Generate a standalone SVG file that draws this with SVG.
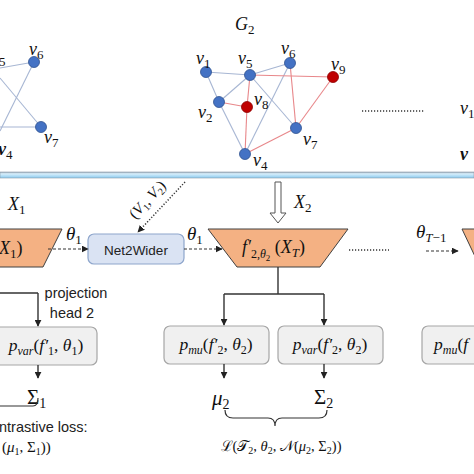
<svg xmlns="http://www.w3.org/2000/svg" width="474" height="474" viewBox="0 0 474 474">
<defs>
<style>
.m{font-family:"Liberation Serif","DejaVu Serif",serif;font-style:italic;fill:#111}
.s{font-family:"Liberation Sans",Arial,sans-serif;fill:#222}
.eb{stroke:#a7b6d3;stroke-width:1.1;fill:none}
.er{stroke:#e8878a;stroke-width:1.1;fill:none}
.nb{fill:#4472c4;stroke:#2f528f;stroke-width:0.8}
.nr{fill:#c00000;stroke:#8b0000;stroke-width:0.8}
.trap{fill:#f4b183;stroke:#404040;stroke-width:1}
.box{fill:#f0f0f0;stroke:#a6a6a6;stroke-width:1.2}
.ln{stroke:#333;stroke-width:1.4;fill:none}
.dash{stroke:#333;stroke-width:1.2;fill:none;stroke-dasharray:3 2}
.dot{stroke:#333;stroke-width:1.5;fill:none;stroke-dasharray:1.2 1.8}
.up{font-style:normal}
</style>
<marker id="ah" viewBox="0 0 10 10" refX="9" refY="5" markerWidth="7" markerHeight="7" markerUnits="userSpaceOnUse" orient="auto"><path d="M0,0 L10,5 L0,10 z" fill="#222"/></marker>
<linearGradient id="band" x1="0" y1="0" x2="0" y2="1"><stop offset="0" stop-color="#9aaab8"/><stop offset="0.3" stop-color="#d7eefb"/><stop offset="1" stop-color="#8ccbef"/></linearGradient>
</defs>
<rect width="474" height="474" fill="#fff"/>

<rect x="0" y="172" width="474" height="6" fill="url(#band)" stroke="#8a9aa8" stroke-width="0.6"/>

<g id="graph1">
<line class="eb" x1="0" y1="68" x2="34" y2="62"/>
<line class="eb" x1="0" y1="78" x2="41" y2="127"/>
<line class="eb" x1="0" y1="131" x2="34" y2="62"/>
<line class="eb" x1="0" y1="127" x2="41" y2="127"/>
<circle class="nb" cx="34" cy="62" r="5.5"/>
<circle class="nb" cx="41" cy="127" r="5.5"/>
<text class="m" x="29" y="55" font-size="18">v<tspan dy="4" font-size="13" class="up">6</tspan></text>
<text class="m" x="44" y="143" font-size="18">v<tspan dy="4" font-size="13" class="up">7</tspan></text>
<text class="m" x="-2" y="155" font-size="18" font-weight="bold">v<tspan dy="4" font-size="13" font-weight="normal" class="up">4</tspan></text>
<text class="m" x="-9" y="62" font-size="18">v<tspan dy="4" font-size="13" class="up">5</tspan></text>
</g>

<g id="graph2">
<text class="m" x="235" y="30" font-size="18">G<tspan dy="4" font-size="13" class="up">2</tspan></text>
<line class="eb" x1="206" y1="72" x2="250" y2="75"/>
<line class="eb" x1="250" y1="75" x2="290" y2="63"/>
<line class="eb" x1="206" y1="72" x2="219" y2="102"/>
<line class="eb" x1="219" y1="102" x2="250" y2="75"/>
<line class="eb" x1="219" y1="102" x2="245" y2="154"/>
<line class="eb" x1="250" y1="75" x2="296" y2="128"/>
<line class="eb" x1="290" y1="63" x2="245" y2="154"/>
<line class="er" x1="250" y1="75" x2="333" y2="77"/>
<line class="er" x1="250" y1="75" x2="247" y2="107"/>
<line class="er" x1="219" y1="102" x2="247" y2="107"/>
<line class="er" x1="247" y1="107" x2="245" y2="154"/>
<line class="er" x1="245" y1="154" x2="296" y2="128"/>
<line class="er" x1="296" y1="128" x2="333" y2="77"/>
<line class="er" x1="290" y1="63" x2="296" y2="128"/>
<circle class="nb" cx="206" cy="72" r="5.5"/>
<circle class="nb" cx="250" cy="75" r="5.5"/>
<circle class="nb" cx="290" cy="63" r="5.5"/>
<circle class="nr" cx="333" cy="77" r="5.5"/>
<circle class="nb" cx="219" cy="102" r="5.5"/>
<circle class="nr" cx="247" cy="107" r="5.5"/>
<circle class="nb" cx="296" cy="128" r="5.5"/>
<circle class="nb" cx="245" cy="154" r="5.5"/>
<text class="m" x="196" y="64" font-size="18">v<tspan dy="4" font-size="13" class="up">1</tspan></text>
<text class="m" x="238" y="64" font-size="18">v<tspan dy="4" font-size="13" class="up">5</tspan></text>
<text class="m" x="281" y="54" font-size="18">v<tspan dy="4" font-size="13" class="up">6</tspan></text>
<text class="m" x="331" y="70" font-size="18">v<tspan dy="4" font-size="13" class="up">9</tspan></text>
<text class="m" x="198" y="118" font-size="18">v<tspan dy="4" font-size="13" class="up">2</tspan></text>
<text class="m" x="254" y="105" font-size="18">v<tspan dy="4" font-size="13" class="up">8</tspan></text>
<text class="m" x="303" y="145" font-size="18">v<tspan dy="4" font-size="13" class="up">7</tspan></text>
<text class="m" x="253" y="166" font-size="18">v<tspan dy="4" font-size="13" class="up">4</tspan></text>
</g>

<g id="graph3">
<line class="dot" x1="362" y1="111" x2="425" y2="111"/>
<text class="m" x="460" y="114" font-size="18">v<tspan dy="4" font-size="13" class="up">1</tspan></text>
<text class="m" x="460" y="160" font-size="18" font-weight="bold">v</text>
</g>

<g id="enc1">
<polygon class="trap" points="-40,229 62,229 43,267 -30,267"/>
<text class="m" x="-1" y="254" font-size="18">X<tspan dy="4" font-size="13" class="up">1</tspan><tspan dy="-4" class="up">)</tspan></text>
<text class="m" x="8" y="210" font-size="18">X<tspan dy="4" font-size="13" class="up">1</tspan></text>
</g>

<g id="net2wider">
<rect x="88" y="234" width="96" height="30" rx="6" fill="#dae3f3" stroke="#8ea6cc" stroke-width="1.2"/>
<text class="s" x="136" y="254.5" font-size="13.5" text-anchor="middle">Net2Wider</text>
</g>

<g id="enc2">
<polygon class="trap" points="208,229 348,229 320,267 237,267"/>
<text class="m" x="242" y="253" font-size="18">f′<tspan dy="5" font-size="12" class="up">2,</tspan><tspan font-size="12">θ</tspan><tspan dy="3" font-size="9" class="up">2</tspan><tspan dy="-8" font-size="18" class="up"> (</tspan><tspan font-size="18">X</tspan><tspan dy="4" font-size="13">T</tspan><tspan dy="-4" font-size="18" class="up">)</tspan></text>
<text class="m" x="294" y="208" font-size="18">X<tspan dy="4" font-size="13" class="up">2</tspan></text>
</g>

<g id="enc3">
<polygon class="trap" points="462,229 500,229 490,267 480,267"/>
</g>

<g id="head1">
<rect x="-20" y="327" width="117" height="38" rx="6" class="box"/>
<text class="m" x="46" y="351" font-size="17.5" text-anchor="middle">p<tspan dy="4" font-size="12">var</tspan><tspan dy="-4" class="up">(</tspan><tspan>f′</tspan><tspan dy="4" font-size="12" class="up">1</tspan><tspan dy="-4" class="up">,</tspan><tspan> θ</tspan><tspan dy="4" font-size="12" class="up">1</tspan><tspan dy="-4" class="up">)</tspan></text>
</g>
<g id="head2mu">
<rect x="164" y="326" width="105" height="38" rx="6" class="box"/>
<text class="m" x="216" y="350" font-size="17.5" text-anchor="middle">p<tspan dy="4" font-size="12">mu</tspan><tspan dy="-4" class="up">(</tspan><tspan>f′</tspan><tspan dy="4" font-size="12" class="up">2</tspan><tspan dy="-4" class="up">,</tspan><tspan> θ</tspan><tspan dy="4" font-size="12" class="up">2</tspan><tspan dy="-4" class="up">)</tspan></text>
</g>
<g id="head2var">
<rect x="278" y="326" width="105" height="38" rx="6" class="box"/>
<text class="m" x="330" y="350" font-size="17.5" text-anchor="middle">p<tspan dy="4" font-size="12">var</tspan><tspan dy="-4" class="up">(</tspan><tspan>f′</tspan><tspan dy="4" font-size="12" class="up">2</tspan><tspan dy="-4" class="up">,</tspan><tspan> θ</tspan><tspan dy="4" font-size="12" class="up">2</tspan><tspan dy="-4" class="up">)</tspan></text>
</g>
<g id="head3">
<rect x="422" y="326" width="80" height="38" rx="6" class="box"/>
<text class="m" x="434" y="350" font-size="17.5">p<tspan dy="4" font-size="12">mu</tspan><tspan dy="-4" class="up">(</tspan><tspan>f</tspan></text>
</g>

<g id="labels">
<text class="m" x="66" y="240" font-size="19">θ<tspan dy="4" font-size="13" class="up">1</tspan></text>
<text class="m" x="187" y="240" font-size="19">θ<tspan dy="4" font-size="13" class="up">1</tspan></text>
<text class="m" x="416" y="238" font-size="19">θ<tspan dy="4" font-size="13">T</tspan><tspan font-size="13" class="up">−1</tspan></text>
<text class="m" transform="translate(151,203) rotate(-47)" font-size="15" text-anchor="middle"><tspan class="up">(</tspan>V<tspan dy="3" font-size="10" class="up">1</tspan><tspan dy="-3" class="up">, </tspan>V<tspan dy="3" font-size="10" class="up">2</tspan><tspan dy="-3" class="up">)</tspan></text>
<text class="s" x="76" y="298" font-size="14.5" text-anchor="middle">projection</text>
<text class="s" x="72" y="318" font-size="14.5" text-anchor="middle">head 2</text>
<text class="m up" x="27" y="404" font-size="21">Σ<tspan dy="4" font-size="14">1</tspan></text>
<text class="m" x="212" y="405" font-size="21">μ<tspan dy="4" font-size="14" class="up">2</tspan></text>
<text class="m up" x="314" y="404" font-size="21">Σ<tspan dy="4" font-size="14">2</tspan></text>
<text class="s" x="-1" y="432" font-size="14.5">ntrastive loss:</text>
<text class="m up" x="2" y="452" font-size="15">(<tspan class="m">μ</tspan><tspan dy="3" font-size="10">1</tspan><tspan dy="-3">, Σ</tspan><tspan dy="3" font-size="10">1</tspan><tspan dy="-3">))</tspan></text>
<text class="m up" x="281" y="451" font-size="14.5" text-anchor="middle">ℒ(𝒯<tspan dy="3" font-size="10">2</tspan><tspan dy="-3">, </tspan><tspan class="m">θ</tspan><tspan dy="3" font-size="10">2</tspan><tspan dy="-3">, 𝒩(</tspan><tspan class="m">μ</tspan><tspan dy="3" font-size="10">2</tspan><tspan dy="-3">, Σ</tspan><tspan dy="3" font-size="10">2</tspan><tspan dy="-3">))</tspan></text>
</g>

<g id="connectors">
<line class="dash" x1="48" y1="249" x2="88" y2="249" marker-end="url(#ah)"/>
<line class="dash" x1="184" y1="249" x2="222" y2="249" marker-end="url(#ah)"/>
<line class="dot" x1="349" y1="250" x2="389" y2="250"/>
<line class="dash" x1="426" y1="251" x2="458" y2="251" marker-end="url(#ah)"/>
<line class="dot" x1="185" y1="182" x2="138" y2="232" marker-end="url(#ah)"/>
<path d="M275,182 H281 V213 H286 L278,223 L270,213 H275 Z" fill="#fff" stroke="#555" stroke-width="1"/>
<path class="ln" d="M278,267 V294"/>
<path class="ln" d="M224,294 H324"/>
<line class="ln" x1="224" y1="294" x2="224" y2="325" marker-end="url(#ah)"/>
<line class="ln" x1="324" y1="294" x2="324" y2="325" marker-end="url(#ah)"/>
<path class="ln" d="M0,293 H38"/>
<line class="ln" x1="38" y1="293" x2="38" y2="326" marker-end="url(#ah)"/>
<line class="ln" x1="38" y1="365" x2="38" y2="378" marker-end="url(#ah)"/>
<line class="ln" x1="224" y1="364" x2="224" y2="378" marker-end="url(#ah)"/>
<line class="ln" x1="324" y1="364" x2="324" y2="378" marker-end="url(#ah)"/>
<path d="M0,406 H33 Q38,406 38,398" stroke="#333" stroke-width="1.2" fill="none"/>
<path d="M225,410 Q225,418 233,418 H268 Q275,418 275,426 Q275,418 282,418 H319 Q327,418 327,410" stroke="#333" stroke-width="1.2" fill="none"/>
</g>
</svg>
